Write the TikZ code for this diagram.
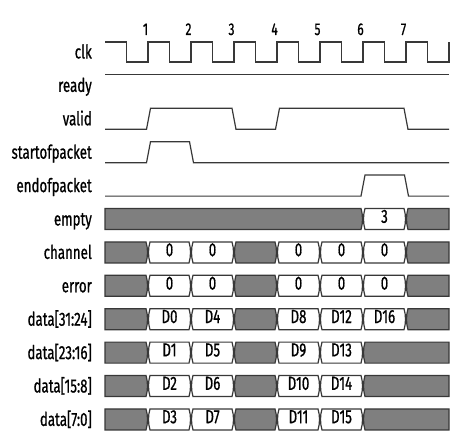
\documentclass[tikz,border=0pt]{standalone}
\usepackage{fontspec}
\setmainfont{Fira Sans}[FakeStretch=0.7, FakeBold=0.8]
\usetikzlibrary{calc}
\definecolor{wave}{HTML}{383838}
\definecolor{idle}{HTML}{7F7F7F}
\tikzset{
  wave/.style={draw=wave, line width=1.2pt, line join=miter},
  signame/.style={anchor=base east, inner sep=0pt, text=black,
                  font=\fontsize{19}{19}\selectfont},
  cyclenum/.style={anchor=base, inner sep=0pt, text=black,
                   font=\fontsize{17}{17}\selectfont},
  celltext/.style={inner sep=0pt, text=black,
                   font=\fontsize{19}{19}\selectfont}
}
% one bus cell between clock edges #3 and #4 on the row centred at #2
\newcommand{\buscell}[6]{%
  \pgfmathsetmacro{\xa}{105+43*#3}%
  \pgfmathsetmacro{\xb}{105+43*#4}%
  \pgfmathsetmacro{\la}{#3==0 ? 0 : 2}%
  \pgfmathsetmacro{\lb}{#4==8 ? 0 : 2}%
  \path[wave, fill=#5] (\xa+\la,#2-10.5) .. controls (\xa,#2-4) and (\xa,#2+4) .. (\xa+\la,#2+10.5)
    -- (\xb-\lb,#2+10.5) .. controls (\xb,#2+4) and (\xb,#2-4) .. (\xb-\lb,#2-10.5) -- cycle;
  \node[celltext] (#1) at ({(\xa+\xb)/2},#2) {\strut#6};
}

\begin{document}
\begin{tikzpicture}[x=1pt,y=-1pt]
  \useasboundingbox (0,0) rectangle (474,441);

  % signal names
  \foreach \nm/\txt/\r in {clk/clk/0, rdy/ready/1, vld/valid/2, sop/startofpacket/3,
      eop/endofpacket/4, emp/empty/5, chn/channel/6, err/error/7, dA/data[31:24]/8,
      dB/data[23:16]/9, dC/data[15:8]/10, dD/data[7:0]/11}
    \node[signame] (lbl-\nm) at (92,52+33.4*\r+6.5) {\txt};

  % cycle numbers
  \foreach \i in {1,...,7}
    \node[cyclenum] (cyc-\i) at (105+43*\i-2.5,35) {\i};

  % clk
  \draw[wave] (105,42) foreach \i in {0,...,7} { -- ++(21.5,0) -- ++(0,20) -- ++(21.5,0) -- ++(0,-20) };
  % ready
  \draw[wave] (105,74.9) -- (449,74.9);
  % valid
  \draw[wave] (105,129.3) -- (146.5,129.3) -- (150.5,108.3) -- (232,108.3) -- (236,129.3)
    -- (275.5,129.3) -- (279.5,108.3) -- (404,108.3) -- (408,129.3) -- (449,129.3);
  % startofpacket
  \draw[wave] (105,162.7) -- (146.5,162.7) -- (150.5,141.7) -- (189.5,141.7) -- (193.5,162.7) -- (449,162.7);
  % endofpacket
  \draw[wave] (105,196.1) -- (361,196.1) -- (365,175.1) -- (404.5,175.1) -- (408.5,196.1) -- (449,196.1);

  % empty
  \buscell{emp-0}{219}{0}{6}{idle}{}
  \buscell{emp-1}{219}{6}{7}{white}{3}
  \buscell{emp-2}{219}{7}{8}{idle}{}

  % channel and error
  \foreach \nm/\y in {chn/252.4, err/285.8}
    \foreach \a/\b/\f/\v in {0/1/idle/, 1/2/white/0, 2/3/white/0, 3/4/idle/,
        4/5/white/0, 5/6/white/0, 6/7/white/0, 7/8/idle/}
      \buscell{\nm-\a}{\y}{\a}{\b}{\f}{\v};

  % data[31:24]
  \foreach \a/\b/\f/\v in {0/1/idle/, 1/2/white/D0, 2/3/white/D4, 3/4/idle/,
      4/5/white/D8, 5/6/white/D12, 6/7/white/D16, 7/8/idle/}
    \buscell{dA-\a}{319.2}{\a}{\b}{\f}{\v};

  % data[23:16], data[15:8], data[7:0]
  \foreach \nm/\y/\p/\q/\s/\t in {dB/352.6/D1/D5/D9/D13, dC/386.0/D2/D6/D10/D14,
      dD/419.4/D3/D7/D11/D15}
    \foreach \a/\b/\f/\v in {0/1/idle/, 1/2/white/\p, 2/3/white/\q, 3/4/idle/,
        4/5/white/\s, 5/6/white/\t, 6/8/idle/}
      \buscell{\nm-\a}{\y}{\a}{\b}{\f}{\v};
\end{tikzpicture}
\end{document}
